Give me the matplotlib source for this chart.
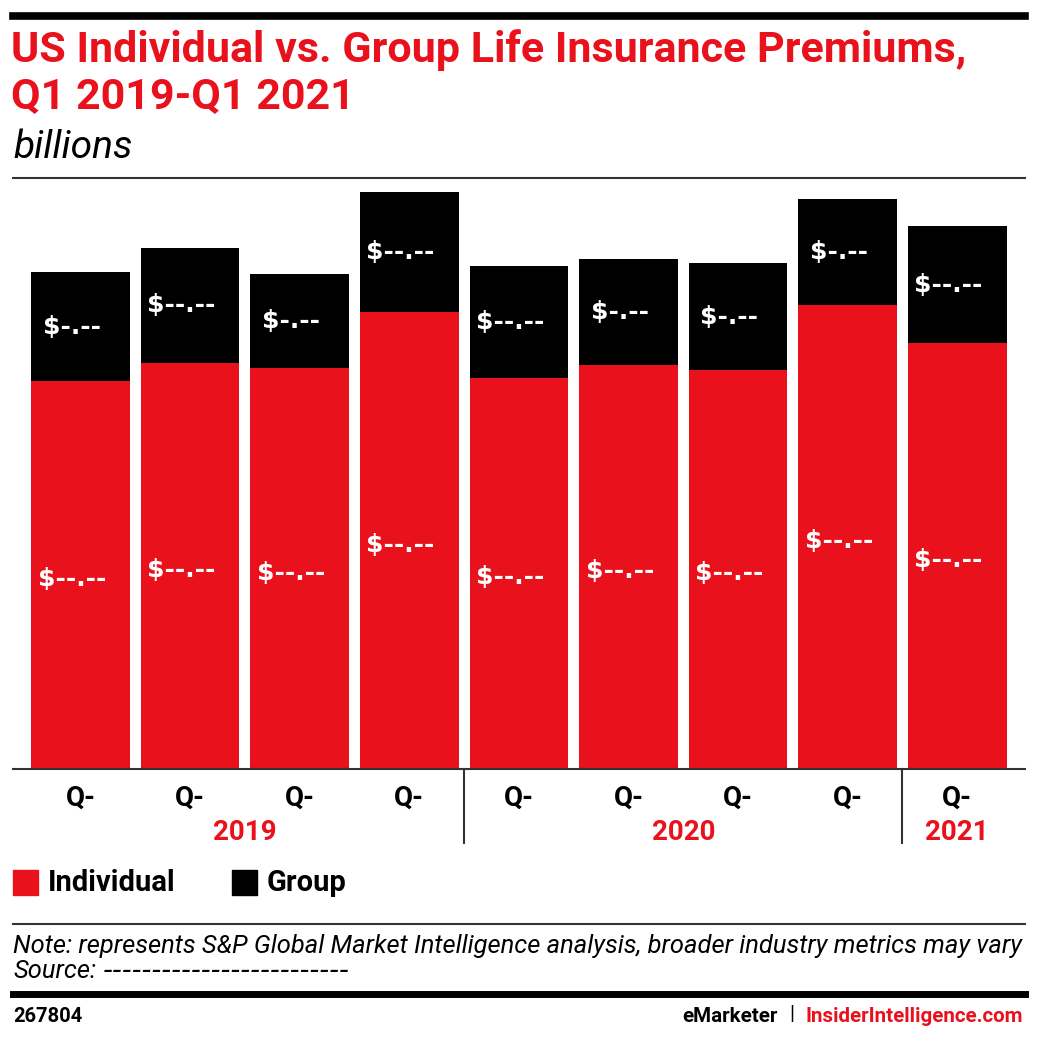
import matplotlib
matplotlib.use("Agg")
import matplotlib.pyplot as plt
from matplotlib.lines import Line2D
from matplotlib.patches import Rectangle

# data (billions, values hidden in the source ->)
quarters = ["Q-", "Q-", "Q-", "Q-", "Q-", "Q-", "Q-", "Q-", "Q-"]
years = ["2019", "2020", "2021"]
year_span = [(0, 3), (4, 7), (8, 8)]
individual = [38.8, 40.6, 40.1, 45.7, 39.1, 40.4, 39.9, 46.4, 42.6]
group = [10.9, 11.5, 9.4, 12.0, 11.2, 10.6, 10.7, 10.6, 11.7]
ind_labels = ["$--.--"] * 9
grp_labels = ["$-.--", "$--.--", "$-.--", "$--.--", "$--.--", "$-.--", "$-.--", "$-.--", "$--.--"]

RED = "#e8111c"
W, H = 1039, 1040
plt.rcParams['font.family'] = ['Roboto', 'DejaVu Sans']

fig = plt.figure(figsize=(W / 100, H / 100), dpi=100)

def fx(x): return x / W
def fy(y): return 1 - y / H

ax = fig.add_axes([fx(13), fy(769), 1012 / W, 584 / H])
x = list(range(len(individual)))
ax.bar(x, individual, width=0.9, color=RED, zorder=2)
ax.bar(x, group, width=0.9, bottom=individual, color="black", zorder=2)

for i in x:
    ax.text(i - 0.08, individual[i] / 2 - 0.4, ind_labels[i], color="white", fontsize=18,
            fontweight="bold", ha="center", va="center", family="DejaVu Sans")
    ax.text(i - 0.08, individual[i] + group[i] / 2, grp_labels[i], color="white", fontsize=18,
            fontweight="bold", ha="center", va="center", family="DejaVu Sans")

ax.set_xlim(-0.616, 8.618)
ax.set_ylim(0, 58.4)
for s in ["top", "right", "left"]:
    ax.spines[s].set_visible(False)
ax.spines["bottom"].set_linewidth(1.5)
ax.spines["bottom"].set_color("#333333")
ax.set_yticks([])
ax.set_xticks(x)
ax.set_xticklabels(quarters, fontsize=20, fontweight="bold")
ax.tick_params(axis="x", length=0, pad=11)

# year labels + separators
for yr, (a, b) in zip(years, year_span):
    ax.text((a + b) / 2, -6.3, yr, color=RED, fontsize=20, fontweight="bold",
            ha="center", va="center")
for sep in [3.5, 7.5]:
    ax.plot([sep, sep], [0, -7.4], color="#333333", lw=1.5, clip_on=False)

# header
fig.add_artist(Line2D([fx(13), fx(1025)], [fy(16), fy(16)], color="black", lw=5.5))
fig.text(fx(11), fy(50), "US Individual vs. Group Life Insurance Premiums,", color=RED,
         fontsize=31, fontweight="bold", va="center", ha="left")
fig.text(fx(11), fy(97), "Q1 2019-Q1 2021", color=RED, fontsize=31, fontweight="bold",
         va="center", ha="left")
fig.text(fx(13), fy(148), "billions", fontsize=28, style="italic", va="center", ha="left")
fig.add_artist(Line2D([fx(13), fx(1025)], [fy(178), fy(178)], color="#333333", lw=1.5))

# legend
fig.add_artist(Rectangle((fx(13), fy(895)), 25 / W, 25 / H, color=RED))
fig.text(fx(48), fy(883), "Individual", fontsize=21, fontweight="bold", va="center")
fig.add_artist(Rectangle((fx(232), fy(895)), 25 / W, 25 / H, color="black"))
fig.text(fx(267), fy(883), "Group", fontsize=21, fontweight="bold", va="center")

# footer
fig.add_artist(Line2D([fx(13), fx(1025)], [fy(924), fy(924)], color="#333333", lw=1.5))
fig.text(fx(13), fy(946), "Note: represents S&P Global Market Intelligence analysis, broader industry metrics may vary",
         fontsize=18.4, style="italic", va="center")
fig.text(fx(13), fy(971), "Source:", fontsize=18.4, style="italic", va="center")
fig.text(fx(103), fy(971), "-------------------------", fontsize=19.8, style="italic",
         va="center", family="DejaVu Sans")
fig.add_artist(Line2D([fx(13), fx(1025)], [fy(994), fy(994)], color="black", lw=5))
fig.text(fx(13), fy(1016), "267804", fontsize=14.5, fontweight="bold", va="center")
fig.text(fx(1023), fy(1016), "InsiderIntelligence.com", fontsize=14.8, fontweight="bold",
         color=RED, va="center", ha="right")
fig.text(fx(792), fy(1015), "|", fontsize=15, va="center", ha="center")
fig.text(fx(778), fy(1016), "eMarketer", fontsize=14.8, fontweight="bold", va="center", ha="right")

fig.savefig("out.png", dpi=100)
